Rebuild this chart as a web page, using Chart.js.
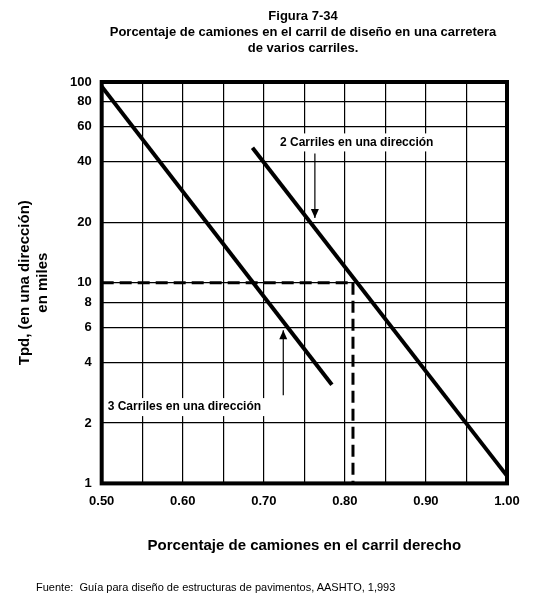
<!DOCTYPE html>
<html><head><meta charset="utf-8">
<script src="https://cdn.jsdelivr.net/npm/chart.js@4"></script>
<style>
  body { margin:0; background:#fff; font-family: Arial, "Liberation Sans", sans-serif; }
  #wrap { position:relative; width:533px; height:609px; }
  #footer { position:absolute; left:36px; top:581px; font-size:11px; color:#000; }
</style></head>
<body>
<div id="wrap"><canvas id="c" width="533" height="609"></canvas>
<div id="footer">Fuente:&nbsp; Guía para diseño de estructuras de pavimentos, AASHTO, 1,993</div></div>
<script>
// data
const titleLines = ['Figura 7-34', 'Porcentaje de camiones en el carril de diseño en una carretera', 'de varios carriles.'];
const yTicks = [1, 2, 4, 6, 8, 10, 20, 40, 60, 80, 100];
const xTicks = [0.5, 0.55, 0.6, 0.65, 0.7, 0.75, 0.8, 0.85, 0.9, 0.95, 1.0];
const tres = [{ x: 0.50, y: 95 }, { x: 0.784, y: 3.1 }];
const dos = [{ x: 0.686, y: 47 }, { x: 1.0, y: 1.09 }];
const guiaH = [{ x: 0.5, y: 10 }, { x: 0.81, y: 10 }];
const guiaV = [{ x: 0.81, y: 10 }, { x: 0.81, y: 1 }];

const extras = {
  id: 'extras',
  afterDraw(chart) {
    const { ctx, chartArea: a, scales: { x, y } } = chart;
    ctx.save();
    ctx.fillStyle = '#000'; ctx.strokeStyle = '#000';
    ctx.textAlign = 'center';
    ctx.font = 'bold 13px Arial, "Liberation Sans"';
    titleLines.forEach((t, i) => ctx.fillText(t, 303, 20 + i * 16));
    // annotations
    ctx.font = 'bold 12px Arial, "Liberation Sans"';
    ctx.textAlign = 'left'; ctx.textBaseline = 'middle';
    const bg = (txt, px, py) => {
      const w = ctx.measureText(txt).width;
      ctx.fillStyle = '#fff'; ctx.fillRect(px - 4, py - 9, w + 8, 18);
      ctx.fillStyle = '#000'; ctx.fillText(txt, px, py);
    };
    bg('2 Carriles en una dirección', x.getPixelForValue(0.72), y.getPixelForValue(50));
    bg('3 Carriles en una dirección', x.getPixelForValue(0.50) + 6, y.getPixelForValue(2.4));
    const arrow = (xv, y0, y1) => {
      const px = x.getPixelForValue(xv), p0 = y.getPixelForValue(y0), p1 = y.getPixelForValue(y1);
      const dir = Math.sign(p1 - p0);
      ctx.lineWidth = 1.2;
      ctx.beginPath(); ctx.moveTo(px, p0); ctx.lineTo(px, p1); ctx.stroke();
      ctx.beginPath(); ctx.moveTo(px, p1); ctx.lineTo(px - 4, p1 - dir * 9); ctx.lineTo(px + 4, p1 - dir * 9); ctx.closePath(); ctx.fill();
    };
    arrow(0.763, 44, 21);
    arrow(0.724, 2.75, 5.8);
    ctx.lineWidth = 4;
    ctx.strokeRect(a.left, a.top, a.right - a.left, a.bottom - a.top);
    ctx.restore();
  }
};

const line = (data, dash, w) => ({ data, borderColor: '#000', borderWidth: w, borderDash: dash, pointRadius: 0, showLine: true, fill: false });

new Chart(document.getElementById('c'), {
  type: 'scatter',
  data: { datasets: [line(tres, [], 4), line(dos, [], 4), line(guiaH, [12, 6], 3), line(guiaV, [12, 6], 3)] },
  options: {
    responsive: false, animation: false,
    layout: { padding: { top: 82, right: 26, bottom: 50, left: 12 } },
    plugins: { legend: { display: false }, tooltip: { enabled: false } },
    scales: {
      x: {
        type: 'linear', min: 0.5, max: 1.0,
        afterBuildTicks: s => { s.ticks = xTicks.map(v => ({ value: v })); },
        grid: { color: '#000', lineWidth: 1.2, drawTicks: false },
        border: { display: false },
        ticks: { color: '#000', font: { size: 13, weight: 'bold' }, padding: 10,
          callback: v => (Math.round(v * 100) % 10 === 0 ? v.toFixed(2) : '') },
        title: { display: true, text: 'Porcentaje de camiones en el carril derecho', color: '#000',
          font: { size: 15, weight: 'bold' }, padding: { top: 18 } }
      },
      y: {
        type: 'logarithmic', min: 1, max: 100,
        afterBuildTicks: s => { s.ticks = yTicks.map(v => ({ value: v })); },
        grid: { color: '#000', lineWidth: 1.2, drawTicks: false },
        border: { display: false },
        ticks: { color: '#000', font: { size: 13, weight: 'bold' }, padding: 10, callback: v => String(v) },
        title: { display: true, text: ['Tpd, (en una dirección)', 'en miles'], color: '#000',
          font: { size: 15, weight: 'bold' }, padding: { bottom: 8 } }
      }
    }
  },
  plugins: [extras]
});
</script>
</body></html>
